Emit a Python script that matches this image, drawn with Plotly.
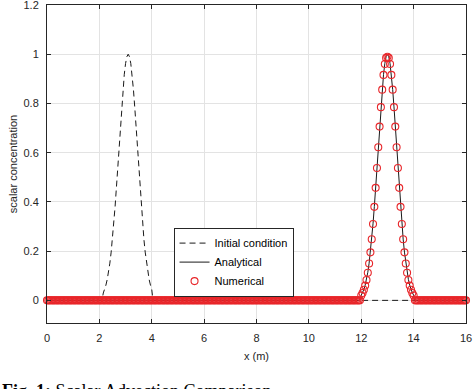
import numpy as np
import plotly.graph_objects as go

# ---- data ----
dx = 0.05
x_grid = np.round(np.arange(0, 16 + dx / 2, dx), 2)

# initial condition: non-zero part on x = 2.00 ... 4.00 (step 0.05)
init_x0 = 2.0
init_peak = [0.0, 0.0, 0.0, 0.03, 0.044, 0.062, 0.085, 0.114, 0.151, 0.196, 0.249,
             0.311, 0.381, 0.458, 0.539, 0.623, 0.707, 0.786, 0.857, 0.917, 0.962,
             0.99, 1.0, 0.99, 0.962, 0.917, 0.857, 0.786, 0.707, 0.623, 0.539,
             0.458, 0.381, 0.311, 0.249, 0.196, 0.151, 0.114, 0.085, 0.062, 0.044]

# analytical solution: non-zero part on x = 12.00 ... 14.00 (step 0.05)
ana_x0 = 12.0
ana_peak = [0.021, 0.031, 0.044, 0.062, 0.085, 0.114, 0.151, 0.196, 0.249, 0.311,
            0.381, 0.458, 0.539, 0.623, 0.707, 0.786, 0.857, 0.917, 0.962, 0.99,
            1.0, 0.99, 0.962, 0.917, 0.857, 0.786, 0.707, 0.623, 0.539, 0.458,
            0.381, 0.311, 0.249, 0.196, 0.151, 0.114, 0.085, 0.062, 0.044, 0.031,
            0.021]

# numerical solution: non-zero part on x = 12.00 ... 14.00 (step 0.05)
num_x0 = 12.0
num_peak = [0.02, 0.03, 0.043, 0.06, 0.083, 0.112, 0.15, 0.195, 0.248, 0.31,
            0.38, 0.457, 0.538, 0.622, 0.706, 0.785, 0.856, 0.916, 0.96, 0.985,
            0.99, 0.985, 0.96, 0.916, 0.856, 0.785, 0.706, 0.622, 0.538, 0.457,
            0.38, 0.31, 0.248, 0.195, 0.15, 0.112, 0.083, 0.06, 0.043, 0.03,
            0.02]

x_ticks = [0, 2, 4, 6, 8, 10, 12, 14, 16]
y_ticks = [0, 0.2, 0.4, 0.6, 0.8, 1, 1.2]
y_tick_labels = ["0", "0.2", "0.4", "0.6", "0.8", "1", "1.2"]


def embed(x0, peak):
    y = np.zeros_like(x_grid)
    i0 = int(round(x0 / dx))
    y[i0:i0 + len(peak)] = peak
    return y


y_init = embed(init_x0, init_peak)
y_ana = embed(ana_x0, ana_peak)
y_num = embed(num_x0, num_peak)

axis_col = "#262626"
grid_col = "#e3e3e3"
sans = "Liberation Sans, Arial"

fig = go.Figure()
fig.add_trace(go.Scatter(x=x_grid, y=y_init, mode="lines", name="Initial condition",
                         line=dict(color="#1a1a1a", width=1, dash="6px,4px")))
fig.add_trace(go.Scatter(x=x_grid, y=y_ana, mode="lines", name="Analytical",
                         line=dict(color="#1a1a1a", width=1)))
fig.add_trace(go.Scatter(x=x_grid, y=y_num, mode="markers", name="Numerical",
                         cliponaxis=False,
                         marker=dict(symbol="circle-open", size=7, color="#e8262a",
                                     line=dict(width=1.1, color="#e8262a"))))

common = dict(showgrid=True, gridcolor=grid_col, gridwidth=1, zeroline=False,
              showline=True, linecolor=axis_col, linewidth=1, mirror="ticks",
              ticks="inside", ticklen=4, tickcolor=axis_col, automargin=False,
              ticklabelstandoff=5, ticklabeloverflow="allow",
              tickfont=dict(family=sans, size=11, color=axis_col))

fig.update_xaxes(range=[0, 16], tickvals=x_ticks,
                 title=dict(text="x (m)", font=dict(family=sans, size=11, color=axis_col),
                            standoff=9),
                 **common)
fig.update_yaxes(range=[-0.092, 1.2], tickvals=y_ticks, ticktext=y_tick_labels,
                 title=dict(text="scalar concentration", font=dict(family=sans, size=11, color=axis_col),
                            standoff=3),
                 **common)

fig.update_layout(
    width=474, height=389,
    margin=dict(l=47, r=8, t=5, b=66),
    paper_bgcolor="white", plot_bgcolor="white",
    showlegend=True,
    legend=dict(x=0.302, y=0.3, xanchor="left", yanchor="top",
                bgcolor="white", bordercolor=axis_col, borderwidth=1,
                font=dict(family=sans, size=11, color="#000000"),
                tracegroupgap=0, itemwidth=30),
    annotations=[dict(text="<b>Fig. 1:</b> Scalar Advection Comparison",
                      xref="paper", yref="paper", x=-0.113, y=-0.175,
                      xanchor="left", yanchor="top", showarrow=False,
                      font=dict(family="Liberation Serif, Times New Roman", size=18, color="#000000"))],
)

fig.write_html("out.html", config={"displayModeBar": False},
               post_script="document.body.style.margin='0px';")
